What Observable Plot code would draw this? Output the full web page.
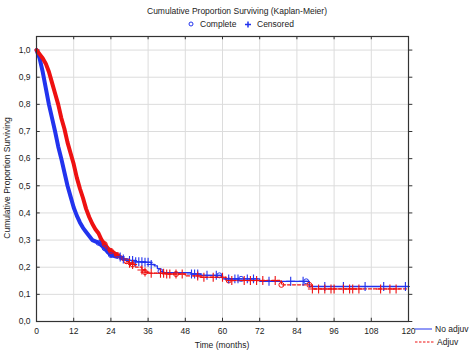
<!DOCTYPE html>
<html><head><meta charset="utf-8">
<script src="https://cdn.jsdelivr.net/npm/d3@7"></script>
<script src="https://cdn.jsdelivr.net/npm/@observablehq/plot@0.6"></script>
<style>
body{margin:0;background:#fff;}
svg{font-family:"Liberation Sans",Arial,sans-serif;}
</style>
</head><body><div id="chart"></div>
<script>
// Kaplan-Meier curves
const timeNoAdjuv = [0,1,2,3,4,5,6,7,8,9,10,11,12,13,14,15,16,17,18,19,20,21,22,23,24,26,28,30,32,35,37,38,39,40,41,50,53,60,72,88,120];
const survNoAdjuv = [1.0,0.97,0.92,0.86,0.80,0.75,0.70,0.645,0.60,0.55,0.50,0.46,0.42,0.39,0.365,0.345,0.33,0.315,0.30,0.295,0.29,0.28,0.27,0.255,0.245,0.238,0.23,0.225,0.22,0.218,0.21,0.205,0.195,0.185,0.18,0.175,0.17,0.157,0.148,0.129,0.129];
const timeAdjuv = [0,1,2,3,4,5,6,7,8,9,10,11,12,13,14,15,16,17,18,19,20,21,22,23,24,25,26,27,28,29,30,31,32,34,35,36,42,48,53,61,79,89,120];
const survAdjuv = [1.0,0.985,0.97,0.95,0.92,0.88,0.84,0.80,0.75,0.71,0.66,0.62,0.58,0.53,0.49,0.455,0.415,0.385,0.36,0.34,0.325,0.30,0.285,0.27,0.26,0.253,0.245,0.238,0.23,0.222,0.215,0.21,0.2,0.19,0.182,0.178,0.175,0.168,0.163,0.151,0.135,0.12,0.12];
// censored (+) and complete (o) marker times
const censoredNoAdjuv = [27,28,30,31,32,33,34,35,36,37,50,51,52,55,58,62,64,65,68,70,75,82,86,93,99,106,112,119];
const censoredAdjuv = [30,31,34,35,37,40,41,42,43,45,47,52,54,57,60,63,67,69,71,73,77,89,91,93,95,96,99,101,102,104,111,114,116];
const completeNoAdjuv = [20,22,24,40,59,66,87];
const completeAdjuv = [22,24,26,29,31,35,45,62,79,88];
const xTicks = [0,12,24,36,48,60,72,84,96,108,120];
const yTicks = [0,0.1,0.2,0.3,0.4,0.5,0.6,0.7,0.8,0.9,1.0];
const seriesNames = ["No adjuv","Adjuv"];
const blue = "#2233ee", red = "#ee1111";

const curve = (t, s, name) => t.map((d, i) => ({time: d, surv: s[i], group: name}));
const survAt = (t, s, x) => { let v = s[0]; for (let i = 0; i < t.length; i++) if (t[i] <= x) v = s[i]; return v; };
const marks = (times, t, s) => times.map(x => ({time: x, surv: survAt(t, s, x)}));

const noAdj = curve(timeNoAdjuv, survNoAdjuv, seriesNames[0]);
const adj = curve(timeAdjuv, survAdjuv, seriesNames[1]);
const cutB = 26, cutR = 28;

const plot = Plot.plot({
  width: 474, height: 355,
  marginTop: 36, marginLeft: 36, marginRight: 66, marginBottom: 34,
  style: {fontFamily: '"Liberation Sans",Arial,sans-serif', fontSize: "8.5px", color: "#222"},
  x: {domain: [0,120]},
  y: {domain: [0,1.05]},
  marks: [
    Plot.gridX(xTicks.slice(1,-1), {stroke: "#dcdcdc", strokeOpacity: 1}),
    Plot.gridY(yTicks.slice(1), {stroke: "#dcdcdc", strokeOpacity: 1}),
    Plot.axisX({ticks: xTicks, tickSize: 0, tickPadding: 6, label: null}),
    Plot.axisY({ticks: yTicks, tickSize: 0, tickPadding: 6, label: null, tickFormat: d => d.toFixed(1).replace(".", ",")}),
    Plot.ruleX(xTicks, {x: d => d, y1: 0, y2: 0.012, stroke: "#333"}),
    Plot.ruleX(xTicks, {x: d => d, y1: 1.05, y2: 1.038, stroke: "#333"}),
    Plot.ruleY(yTicks, {y: d => d, x1: 0, x2: 1.2, stroke: "#333"}),
    Plot.ruleY(yTicks, {y: d => d, x1: 120, x2: 121.4, stroke: "#333"}),
    // thin step lines for the sparse tail
    Plot.line(noAdj.filter(d => d.time >= cutB), {x: "time", y: "surv", curve: "step-after", stroke: blue, strokeWidth: 1.3}),
    Plot.line(adj.filter(d => d.time >= cutR), {x: "time", y: "surv", curve: "step-after", stroke: red, strokeWidth: 1.3, strokeDasharray: "3,2"}),
    // dense early part (many overlapping markers) drawn thick
    Plot.line(noAdj.filter(d => d.time <= cutB), {x: "time", y: "surv", stroke: blue, strokeWidth: 4}),
    Plot.line(adj.filter(d => d.time <= cutR), {x: "time", y: "surv", stroke: red, strokeWidth: 4}),
    Plot.dot(marks(completeNoAdjuv, timeNoAdjuv, survNoAdjuv), {x: "time", y: "surv", r: 2.5, stroke: blue, strokeWidth: 1, fill: "none"}),
    Plot.dot(marks(completeAdjuv, timeAdjuv, survAdjuv), {x: "time", y: "surv", r: 2.5, stroke: red, strokeWidth: 1, fill: "none"}),
    Plot.dot(marks(censoredNoAdjuv, timeNoAdjuv, survNoAdjuv), {x: "time", y: "surv", symbol: "plus", r: 3, stroke: blue, strokeWidth: 1.1}),
    Plot.dot(marks(censoredAdjuv, timeAdjuv, survAdjuv), {x: "time", y: "surv", symbol: "plus", r: 3, stroke: red, strokeWidth: 1.1}),
    Plot.frame({stroke: "#333", strokeWidth: 1.2})
  ]
});
document.getElementById("chart").appendChild(plot);

const svg = d3.select(plot);
const T = (x, y, s, o = {}) => svg.append("text").attr("x", x).attr("y", y).text(s)
  .attr("font-size", o.size || 8.5).attr("fill", o.fill || "#222").attr("text-anchor", o.anchor || "start")
  .attr("transform", o.rot ? `rotate(-90,${x},${y})` : null);
T(237, 14, "Cumulative Proportion Surviving (Kaplan-Meier)", {anchor: "middle", size: 8.5});
svg.append("circle").attr("cx", 191).attr("cy", 24).attr("r", 2).attr("fill", "none").attr("stroke", blue).attr("stroke-width", 1);
T(200, 27, "Complete");
svg.append("path").attr("d", "M245,24.5h6M248,21.5v6").attr("stroke", blue).attr("stroke-width", 1.5);
T(257, 27, "Censored");
T(222, 348, "Time (months)", {anchor: "middle"});
T(10, 178, "Cumulative Proportion Surviving", {anchor: "middle", rot: true});
svg.append("line").attr("x1", 415).attr("x2", 432).attr("y1", 329).attr("y2", 329).attr("stroke", blue).attr("stroke-width", 1);
T(435, 332, seriesNames[0]);
svg.append("line").attr("x1", 415).attr("x2", 434).attr("y1", 342).attr("y2", 342).attr("stroke", red).attr("stroke-width", 1).attr("stroke-dasharray", "2.5,1.5");
T(437, 345, seriesNames[1]);
</script>
</body></html>
